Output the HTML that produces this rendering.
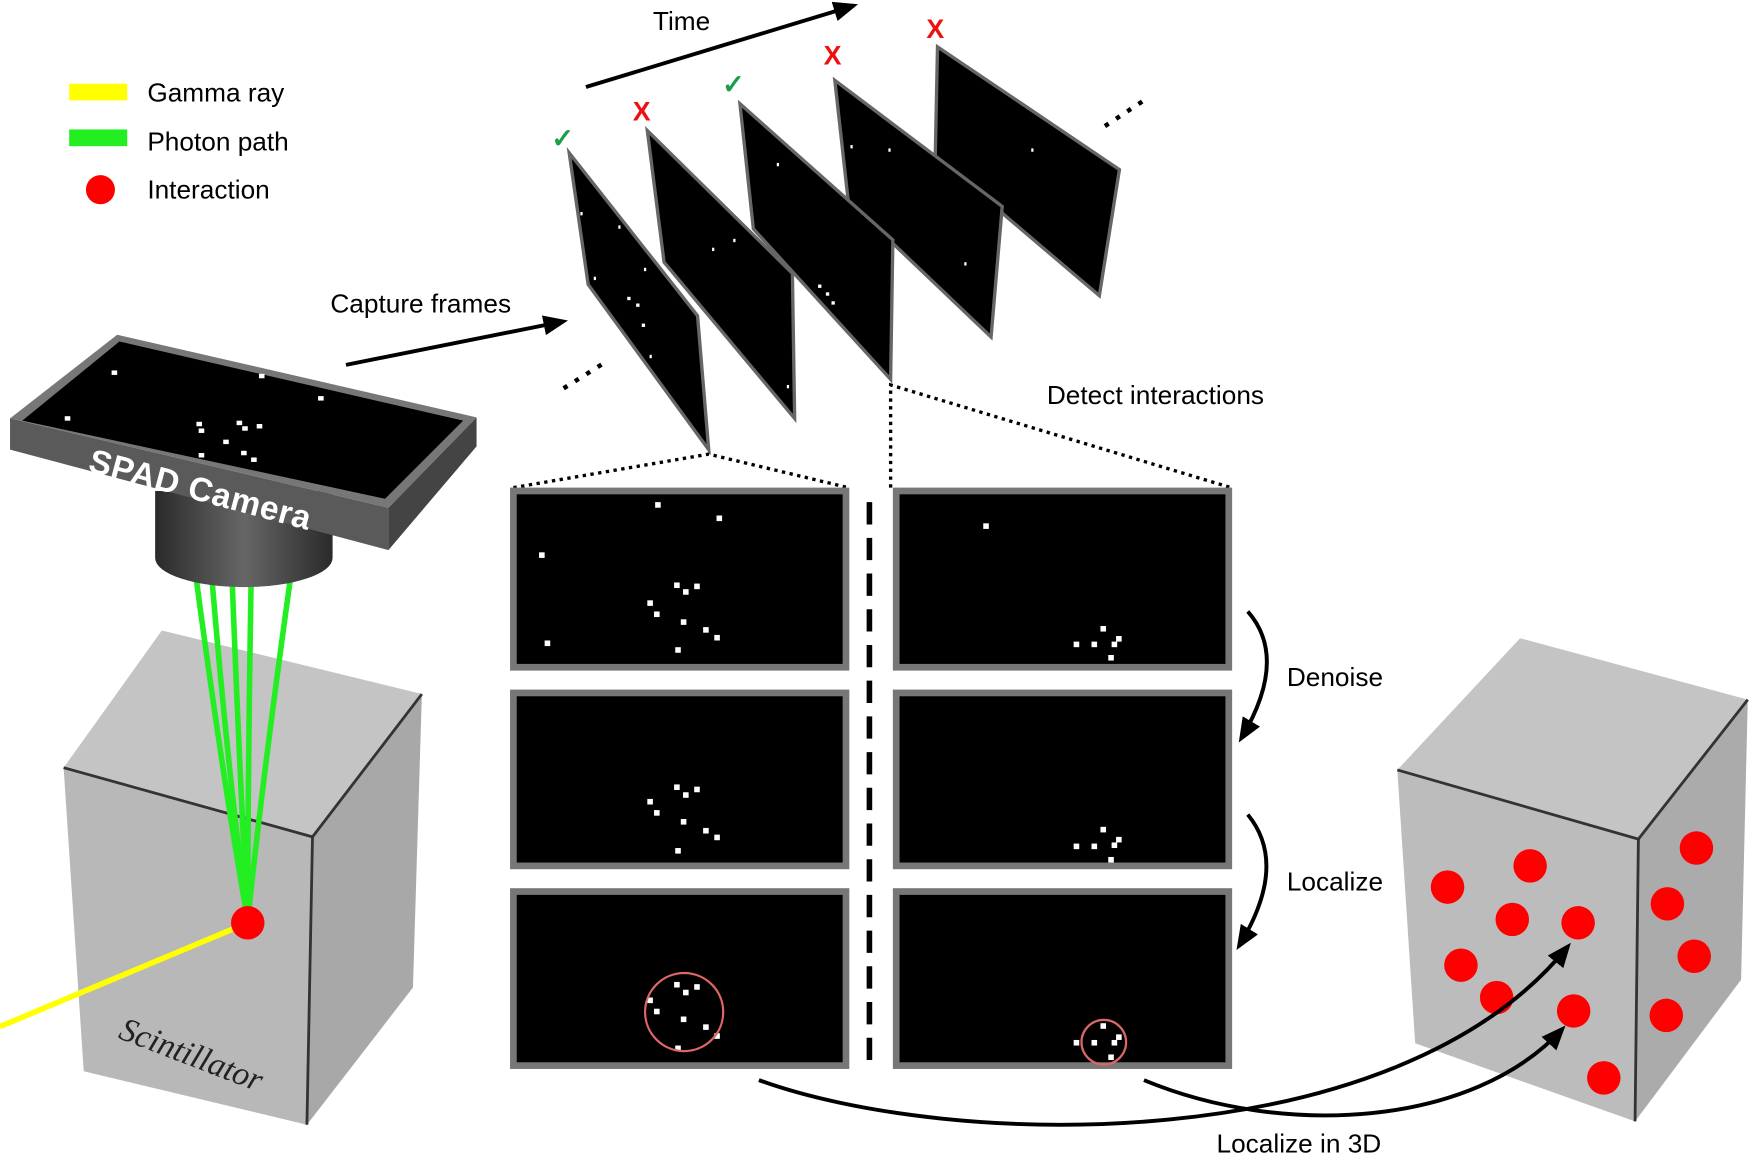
<!DOCTYPE html>
<html><head><meta charset="utf-8"><style>html,body{margin:0;padding:0;background:#fff}svg{display:block}</style></head><body>
<svg width="1750" height="1156" viewBox="0 0 1568 1036" preserveAspectRatio="none" xmlns="http://www.w3.org/2000/svg" font-family="Liberation Sans, sans-serif">
<defs>
<linearGradient id="lens" x1="0" x2="1"><stop offset="0" stop-color="#2a2a2a"/><stop offset="0.5" stop-color="#666"/><stop offset="1" stop-color="#2a2a2a"/></linearGradient>
<marker id="ah2" markerWidth="22" markerHeight="18" refX="18" refY="9" orient="auto" markerUnits="userSpaceOnUse"><path d="M0,0 L22,9 L0,18 z" fill="#000"/></marker>
</defs>
<!-- legend -->
<rect x="62" y="75" width="52" height="15" fill="#ffff00"/>
<rect x="62" y="116" width="52" height="15" fill="#22ee22"/>
<circle cx="90" cy="170" r="13" fill="#f00"/>
<g font-size="23.5" fill="#000"><text x="132" y="91">Gamma ray</text><text x="132" y="135">Photon path</text><text x="132" y="178">Interaction</text></g>
<!-- scintillator -->
<polygon points="57,688 145,565 378,622 280,750" fill="#c4c4c4"/>
<polygon points="57,688 280,750 275,1008 75,960" fill="#b8b8b8"/>
<polygon points="280,750 378,622 370,885 275,1008" fill="#a8a8a8"/>
<polyline points="57,688 280,750 378,622" fill="none" stroke="#333" stroke-width="2.5"/>
<line x1="280" y1="750" x2="275" y2="1008" stroke="#333" stroke-width="2.5"/>
<text transform="translate(105,930) rotate(21)" font-family="Liberation Serif, serif" font-style="italic" font-size="30" fill="#222">Scintillator</text>
<line x1="0" y1="920" x2="222" y2="827" stroke="#ffff00" stroke-width="5"/>
<g stroke="#22ee22" stroke-width="5" fill="none">
<path d="M176,520 Q200,700 222,825"/><path d="M190,520 Q205,700 222,825"/><path d="M208,520 Q215,700 222,825"/><path d="M225,520 Q222,700 222,825"/><path d="M260,520 Q235,700 222,825"/></g>
<circle cx="222" cy="827" r="15" fill="#f00"/>
<!-- camera -->
<path d="M139,440 L139,500 A79,26 0 0 0 298,500 L298,440 z" fill="url(#lens)"/>
<polygon points="9,375 348,455 348,493 9,403" fill="#5a5a5a"/>
<polygon points="348,455 427,374 427,400 348,493" fill="#444"/>
<polygon points="9,375 105,300 427,374 348,455" fill="#777"/>
<polygon points="20,377 107,306 415,377 345,447" fill="#000"/>
<g fill="#fff"><rect x="100" y="332" width="5" height="4"/><rect x="232" y="335" width="5" height="4"/><rect x="285" y="355" width="5" height="4"/><rect x="58" y="373" width="5" height="4"/><rect x="176" y="378" width="5" height="4"/><rect x="212" y="377" width="5" height="4"/><rect x="230" y="380" width="5" height="4"/><rect x="178" y="384" width="5" height="4"/><rect x="217" y="382" width="5" height="4"/><rect x="200" y="394" width="5" height="4"/><rect x="178" y="406" width="5" height="4"/><rect x="216" y="404" width="5" height="4"/><rect x="225" y="410" width="5" height="4"/></g>
<text transform="translate(78,422) rotate(15)" font-size="30" fill="#fff" font-weight="bold" letter-spacing="0.5">SPAD Camera</text>
<!-- capture arrow -->
<text x="296" y="280" font-size="23.5">Capture frames</text>
<line x1="310" y1="327" x2="505" y2="288" stroke="#000" stroke-width="3.5" marker-end="url(#ah2)"/>
<text x="585" y="27" font-size="23.5">Time</text>
<line x1="525" y1="78" x2="765" y2="5" stroke="#000" stroke-width="3.5" marker-end="url(#ah2)"/>
<!-- frames -->
<g fill="#000" stroke="#666" stroke-width="3">
<polygon points="840,42 1003,152 985,265 838,140"/>
<polygon points="748,72 898,185 888,302 760,180"/>
<polygon points="663,93 800,215 798,340 675,205"/>
<polygon points="580,117 710,245 712,375 595,235"/>
<polygon points="510,137 625,283 635,403 527,255"/>
</g>
<g fill="#fff"><rect x="924" y="133" width="2" height="3"/><rect x="864" y="235" width="2" height="3"/><rect x="762" y="130" width="2" height="3"/><rect x="796" y="133" width="2" height="3"/><rect x="696" y="146" width="2" height="3"/><rect x="733" y="255" width="3" height="3"/><rect x="740" y="262" width="3" height="3"/><rect x="745" y="270" width="3" height="3"/><rect x="705" y="345" width="2" height="3"/><rect x="638" y="222" width="2" height="3"/><rect x="657" y="214" width="2" height="3"/><rect x="577" y="240" width="2" height="3"/><rect x="520" y="190" width="2" height="3"/><rect x="554" y="202" width="2" height="3"/><rect x="532" y="248" width="2" height="3"/><rect x="562" y="266" width="3" height="3"/><rect x="570" y="272" width="3" height="3"/><rect x="575" y="290" width="3" height="3"/><rect x="582" y="318" width="2" height="3"/></g>
<g font-size="24" font-weight="bold"><text x="494" y="132" fill="#1a9e4a">✓</text><text x="567" y="108" fill="#e11">X</text><text x="647" y="84" fill="#1a9e4a">✓</text><text x="738" y="58" fill="#e11">X</text><text x="830" y="34" fill="#e11">X</text></g>
<line x1="505" y1="348" x2="545" y2="323" stroke="#000" stroke-width="4" stroke-dasharray="4,8"/>
<line x1="990" y1="113" x2="1028" y2="88" stroke="#000" stroke-width="4" stroke-dasharray="4,8"/>
<text x="938" y="362" font-size="23.5">Detect interactions</text>
<g stroke="#000" stroke-width="3" stroke-dasharray="3,4" fill="none">
<polyline points="460,437 635,407 760,437"/><polyline points="798,437 798,345 1103,437"/></g>
<!-- panels -->
<g fill="#000" stroke="#777" stroke-width="6">
<rect x="460" y="440" width="298" height="158"/><rect x="460" y="621" width="298" height="155"/><rect x="460" y="799" width="298" height="156"/>
<rect x="803" y="440" width="298" height="158"/><rect x="803" y="621" width="298" height="155"/><rect x="803" y="799" width="298" height="156"/></g>
<line x1="779" y1="450" x2="779" y2="955" stroke="#000" stroke-width="5" stroke-dasharray="20,12"/>
<g fill="#fff">
<rect x="587" y="450" width="5" height="5"/><rect x="642" y="462" width="5" height="5"/><rect x="483" y="495" width="5" height="5"/><rect x="604" y="522" width="5" height="5"/><rect x="622" y="523" width="5" height="5"/><rect x="612" y="528" width="5" height="5"/><rect x="580" y="538" width="5" height="5"/><rect x="586" y="548" width="5" height="5"/><rect x="610" y="555" width="5" height="5"/><rect x="630" y="562" width="5" height="5"/><rect x="640" y="569" width="5" height="5"/><rect x="488" y="574" width="5" height="5"/><rect x="605" y="580" width="5" height="5"/>
<rect x="604" y="703" width="5" height="5"/><rect x="622" y="705" width="5" height="5"/><rect x="612" y="710" width="5" height="5"/><rect x="580" y="716" width="5" height="5"/><rect x="586" y="726" width="5" height="5"/><rect x="610" y="734" width="5" height="5"/><rect x="630" y="742" width="5" height="5"/><rect x="640" y="748" width="5" height="5"/><rect x="605" y="760" width="5" height="5"/>
<rect x="604" y="880" width="5" height="5"/><rect x="622" y="882" width="5" height="5"/><rect x="612" y="887" width="5" height="5"/><rect x="580" y="894" width="5" height="5"/><rect x="586" y="904" width="5" height="5"/><rect x="610" y="911" width="5" height="5"/><rect x="630" y="918" width="5" height="5"/><rect x="640" y="926" width="5" height="5"/><rect x="605" y="937" width="5" height="5"/>
<rect x="881" y="469" width="5" height="5"/><rect x="986" y="561" width="5" height="5"/><rect x="1000" y="570" width="5" height="5"/><rect x="962" y="575" width="5" height="5"/><rect x="978" y="575" width="5" height="5"/><rect x="996" y="575" width="5" height="5"/><rect x="993" y="587" width="5" height="5"/>
<rect x="986" y="741" width="5" height="5"/><rect x="1000" y="750" width="5" height="5"/><rect x="962" y="756" width="5" height="5"/><rect x="978" y="756" width="5" height="5"/><rect x="996" y="755" width="5" height="5"/><rect x="993" y="768" width="5" height="5"/>
<rect x="986" y="917" width="5" height="5"/><rect x="1000" y="927" width="5" height="5"/><rect x="962" y="932" width="5" height="5"/><rect x="978" y="932" width="5" height="5"/><rect x="996" y="932" width="5" height="5"/><rect x="993" y="945" width="5" height="5"/></g>
<circle cx="613" cy="907" r="35" fill="none" stroke="#d66" stroke-width="2"/>
<circle cx="989" cy="934" r="20" fill="none" stroke="#d66" stroke-width="2"/>
<!-- right cube -->
<polygon points="1252,690 1362,572 1566,627 1468,752" fill="#c4c4c4"/>
<polygon points="1252,690 1468,752 1465,1005 1268,935" fill="#bcbcbc"/>
<polygon points="1468,752 1566,627 1560,878 1465,1005" fill="#ababab"/>
<polyline points="1252,690 1468,752 1566,627" fill="none" stroke="#333" stroke-width="2.5"/>
<line x1="1468" y1="752" x2="1465" y2="1005" stroke="#333" stroke-width="2.5"/>
<g fill="#f00"><circle cx="1371" cy="776" r="15"/><circle cx="1297" cy="795" r="15"/><circle cx="1355" cy="824" r="15"/><circle cx="1414" cy="827" r="15"/><circle cx="1309" cy="865" r="15"/><circle cx="1341" cy="894" r="15"/><circle cx="1410" cy="906" r="15"/><circle cx="1437" cy="966" r="15"/><circle cx="1520" cy="760" r="15"/><circle cx="1494" cy="810" r="15"/><circle cx="1518" cy="857" r="15"/><circle cx="1493" cy="910" r="15"/></g>
<!-- arrows -->
<g fill="none" stroke="#000" stroke-width="3.5">
<path d="M1118,548 Q1155,590 1112,662" marker-end="url(#ah2)"/>
<path d="M1118,730 Q1155,775 1110,848" marker-end="url(#ah2)"/>
<path d="M680,968 C850,1030 1250,1040 1405,848" marker-end="url(#ah2)"/>
<path d="M1025,968 C1150,1020 1320,1010 1400,922" marker-end="url(#ah2)"/>
</g>
<g font-size="23.5"><text x="1153" y="615">Denoise</text><text x="1153" y="798">Localize</text><text x="1090" y="1033">Localize in 3D</text></g>
</svg>
</body></html>
